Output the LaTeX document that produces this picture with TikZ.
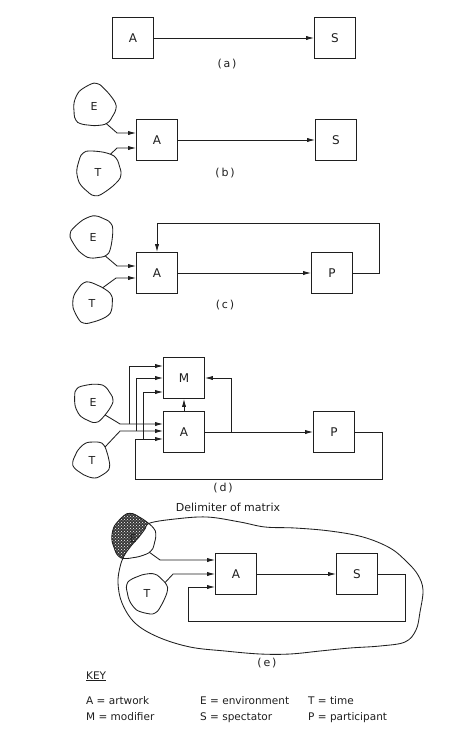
\documentclass[tikz,border=0pt]{standalone}
\usepackage{fontspec}
\setmainfont{DejaVu Sans}
\usetikzlibrary{arrows.meta,calc,patterns}
\definecolor{ink}{gray}{0.12}
\newcommand\blobpath[4]{plot[smooth cycle, variable=\a, samples at={0,15,...,345}] ({#1+#3*bf(\a,#4)*cos(\a)},{#2+#3*bf(\a,#4)*sin(\a)})}
\newcommand\delimpath{plot[smooth cycle, tension=0.6] coordinates {(150,523) (175,519) (207,517) (240,522) (265,527) (295,528) (330,531) (363,537) (390,548) (407,562) (418,575) (423,590) (420,612) (416,630) (405,642) (380,646) (350,648) (320,651) (290,654) (260,654) (225,651) (190,647) (158,637) (135,623) (122,603) (118,583) (120,567) (124,556) (131,546) (139,537) (145,529)}}
\begin{document}
\begin{tikzpicture}[x=1pt,y=-1pt,
  box/.style={draw=ink, line width=0.85pt, minimum width=41pt, minimum height=41pt, inner sep=0pt, text=ink, font=\fontsize{12}{14}\selectfont},
  ln/.style={draw=ink, line width=0.85pt},
  arr/.style={ln, -{Latex[length=8pt,width=4.2pt]}},
  lbl/.style={font=\fontsize{11}{13}\selectfont, text=ink, inner sep=0pt},
  blobl/.style={font=\fontsize{11}{13}\selectfont, text=ink, inner sep=0pt},
  keyt/.style={font=\fontsize{10.5}{12}\selectfont, text=ink, inner sep=0pt, anchor=base west},
  declare function={bf(\a,\p)=1+0.06*sin(3*\a+\p)+0.035*cos(5*\a+2*\p)+0.015*sin(8*\a+3*\p);}]
\useasboundingbox (0,0) rectangle (474,734);
\fill[white] (0,0) rectangle (474,734);

% ---------- (a)
\node[box] (Aa) at (133,38) {A};
\node[box] (Sa) at (335,38) {S};
\draw[arr] (Aa) -- (Sa);
\node[lbl] (la) at (227,64) {(\,a\,)};

% ---------- (b)
\node[box] (Ab) at (157,140) {A};
\node[box] (Sb) at (336,140) {S};
\draw[arr] (Ab) -- (Sb);
\draw[ln] \blobpath{94}{106}{21}{20};
\node[blobl] (Eb) at (94,106) {E};
\coordinate (Ebx) at ({94+21*bf(55,20)*cos(55)},{106+21*bf(55,20)*sin(55)});
\draw[arr] (Ebx) -- ([xshift=-19pt,yshift=7pt]Ab.west) -- ([yshift=7pt]Ab.west);
\draw[ln] \blobpath{98}{172}{22}{130};
\node[blobl] (Tb) at (98,172) {T};
\coordinate (Tbx) at ({98+22*bf(-55,130)*cos(-55)},{172+22*bf(-55,130)*sin(-55)});
\draw[arr] (Tbx) -- ([xshift=-19pt,yshift=-8pt]Ab.west) -- ([yshift=-8pt]Ab.west);
\node[lbl] (lb) at (225,173) {(\,b\,)};

% ---------- (c)
\node[box] (Ac) at (157,273) {A};
\node[box] (Pc) at (332,273) {P};
\draw[arr] (Ac) -- (Pc);
\draw[arr] (Pc.east) -| ([xshift=26pt,yshift=29pt]Pc.north east) -| (Ac.north);
\draw[ln] \blobpath{93}{237}{21}{250};
\node[blobl] (Ec) at (93,237) {E};
\coordinate (Ecx) at ({93+21*bf(57,250)*cos(57)},{237+21*bf(57,250)*sin(57)});
\draw[arr] (Ecx) -- ([xshift=-19pt,yshift=7pt]Ac.west) -- ([yshift=7pt]Ac.west);
\draw[ln] \blobpath{92}{303}{20}{80};
\node[blobl] (Tc) at (92,303) {T};
\coordinate (Tcx) at ({92+20*bf(-55,80)*cos(-55)},{303+20*bf(-55,80)*sin(-55)});
\draw[arr] (Tcx) -- ([xshift=-20pt,yshift=-5pt]Ac.west) -- ([yshift=-5pt]Ac.west);
\node[lbl] (lc) at (225,305) {(\,c\,)};

% ---------- (d)
\node[box] (Md) at (184,378) {M};
\node[box] (Ad) at (184,432) {A};
\node[box] (Pd) at (334,432) {P};
\draw[arr] (Ad) -- (Pd);
\draw[arr] ([xshift=26pt]Ad.east) |- (Md.east);
\draw[arr] (Ad) -- (Md);
\coordinate (dfb) at ([xshift=27pt,yshift=-47pt]Pd.east);
\draw[arr] (Pd.east) -| (dfb) -| ([xshift=-28pt,yshift=-7pt]Ad.west) -- ([yshift=-7pt]Ad.west);
\draw[arr] ([xshift=-20pt,yshift=-7pt]Ad.west) |- ([yshift=-14pt]Md.west);
\draw[ln] \blobpath{93}{402}{19}{170};
\node[blobl] (Ed) at (93,402) {E};
\coordinate (Edx) at ({93+19*bf(47,170)*cos(47)},{402+19*bf(47,170)*sin(47)});
\draw[arr] (Edx) -- ([xshift=-43pt,yshift=8pt]Ad.west) -- ([yshift=8pt]Ad.west);
\draw[arr] ([xshift=-34pt,yshift=8pt]Ad.west) |- ([yshift=12pt]Md.west);
\draw[ln] \blobpath{92}{460}{18}{310};
\node[blobl] (Td) at (92,460) {T};
\coordinate (Tdx) at ({92+18*bf(-45,310)*cos(-45)},{460+18*bf(-45,310)*sin(-45)});
\draw[arr] (Tdx) -- ([xshift=-43pt,yshift=1pt]Ad.west) -- ([yshift=1pt]Ad.west);
\draw[arr] ([xshift=-27pt,yshift=1pt]Ad.west) |- (Md.west);
\node[lbl] (ld) at (223,488) {(\,d\,)};

% ---------- (e)
\begin{scope}
  \clip \blobpath{133}{537}{22}{60};
  \fill[black!78] (100,500) rectangle (170,570);
  \fill[pattern=crosshatch dots, pattern color=white] (100,500) rectangle (170,570);
  \fill[white] \delimpath;
\end{scope}
\draw[ln] \blobpath{133}{537}{22}{60};
\draw[ln] \delimpath;
\node[blobl] (Ee) at (133,538) {E};
\node[box] (Ae) at (236,574) {A};
\node[box] (Se) at (357,574) {S};
\draw[arr] (Ae) -- (Se);
\draw[arr] (Se.east) -| ([xshift=27pt,yshift=-47pt]Se.east) -| ([xshift=-27pt,yshift=-13pt]Ae.west) -- ([yshift=-13pt]Ae.west);
\coordinate (Eex) at ({133+22*bf(43,60)*cos(43)},{537+22*bf(43,60)*sin(43)});
\draw[arr] (Eex) -- ([xshift=-55pt,yshift=14pt]Ae.west) -- ([yshift=14pt]Ae.west);
\draw[ln] \blobpath{147}{593}{20}{200};
\node[blobl] (Te) at (147,593) {T};
\coordinate (Tex) at ({147+20*bf(-30,200)*cos(-30)},{593+20*bf(-30,200)*sin(-30)});
\draw[arr] (Tex) -- ([xshift=-42pt]Ae.west) -- (Ae.west);
\node[lbl] (dl) at (228,507) {Delimiter of matrix};
\node[lbl] (le) at (267,663) {(\,e\,)};

% ---------- key
\node[keyt] (key) at (86,679) {\underline{KEY}};
\node[keyt] (k1) at (86,704) {A = artwork};
\node[keyt] (k2) at (200,704) {E = environment};
\node[keyt] (k3) at (308,704) {T = time};
\node[keyt] (k4) at (86,720) {M = modifier};
\node[keyt] (k5) at (200,720) {S = spectator};
\node[keyt] (k6) at (308,720) {P = participant};
\end{tikzpicture}
\end{document}
